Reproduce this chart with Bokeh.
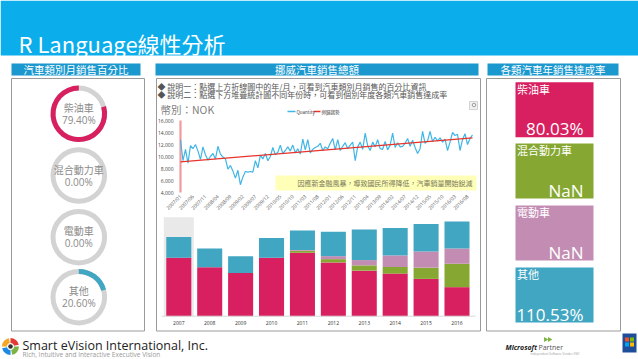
import numpy as np
from bokeh.plotting import figure
from bokeh.models import Range1d, ColumnDataSource
from bokeh.transform import stack
from bokeh.core.properties import value
from bokeh.embed import file_html
from bokeh.resources import INLINE

# ---------------- data ----------------
title_text = "R Language線性分析"
panel_titles = ["汽車類別月銷售百分比", "挪威汽車銷售總額", "各類汽車年銷售達成率"]
categories = ["柴油車", "混合動力車", "電動車", "其他"]
cat_colors = ["#D81F5F", "#86A832", "#C38DB3", "#41A6C2"]
month_share = [79.40, 0.00, 0.00, 20.60]          # % of selected month (2007/01)
rate_texts = ["80.03%", "NaN", "NaN", "110.53%"]   # yearly achievement rate
note_lines = ["◆ 說明一：點選上方折線圖中的年/月，可看到汽車類別月銷售的百分比資訊",
              "◆ 說明二：點選下方堆疊統計圖不同年份時，可看到個別年度各類汽車銷售達成率"]
currency_text = "幣別：NOK"
legend_names = ["Quantity", "迴歸趨勢"]
annotation_text = "因應新金融風暴，導致國民所得降低，汽車銷量開始銳減"

q2007 = [12800, 9300, 11200, 8900, 11800, 11300, 12000, 10900, 9500, 11600, 10300, 9400]
q2008 = [10000, 10500, 9600, 11700, 10400, 9900, 9600, 7900, 8500, 7600, 6400, 7700]
q2009 = [5300, 6600, 7500, 7400, 7500, 7400, 9300, 8100, 10200, 9600, 10500, 9300]
q2010 = [10000, 11500, 10300, 10700, 11900, 10500, 11000, 11600, 10900, 11900, 10600, 11300]
q2011 = [10400, 12900, 11100, 12800, 10600, 11200, 11500, 11700, 12200, 11000, 11600, 11300]
q2012 = [12200, 13000, 11100, 12800, 11000, 11700, 12300, 11300, 11900, 12400, 9300, 11600]
q2013 = [12400, 11200, 13900, 11800, 11000, 12400, 11600, 12800, 11300, 11200, 12500, 11100]
q2014 = [11900, 13900, 11500, 12300, 11600, 11700, 12200, 13000, 11700, 12700, 11500, 10500]
q2015 = [11300, 14200, 12200, 12600, 14200, 12500, 13200, 12600, 13100, 12400, 12900, 11000]
q2016 = [12400, 14000, 13500, 13700, 11000, 12800, 13800, 12000, 13000, 13600]
quantity = q2007 + q2008 + q2009 + q2010 + q2011 + q2012 + q2013 + q2014 + q2015 + q2016
trend_start, trend_end = 9100, 13100
selected_month = 0

y_ticks = [4000, 6000, 8000, 10000, 12000, 14000, 16000]
y_tick_labels = ["4,000", "6,000", "8,000", "10,000", "12,000", "14,000", "16,000"]
x_tick_idx = [0, 5, 10, 15, 20, 25, 30, 35, 40, 45, 50, 55, 60, 65, 70, 75, 80, 85,
              90, 95, 100, 105, 110, 115]
x_tick_labels = ["2007/01", "2007/06", "2007/11", "2008/04", "2008/09", "2009/02",
                 "2009/07", "2009/12", "2010/05", "2010/10", "2011/03", "2011/08",
                 "2012/01", "2012/06", "2012/11", "2013/04", "2013/09", "2014/02",
                 "2014/07", "2014/12", "2015/05", "2015/10", "2016/03", "2016/08"]

years = ["2007", "2008", "2009", "2010", "2011", "2012", "2013", "2014", "2015", "2016"]
diesel = [97.4, 81.4, 72.0, 97.4, 105.6, 89.6, 75.9, 71.0, 62.2, 48.4]
hybrid = [0.0, 0.0, 0.0, 0.0, 3.3, 5.5, 8.8, 11.0, 18.7, 39.0]
electric = [0.0, 0.0, 0.0, 0.0, 1.6, 5.0, 8.8, 19.3, 27.0, 25.3]
other = [34.7, 31.4, 28.0, 33.0, 32.4, 40.7, 51.2, 45.7, 45.7, 45.1]
selected_year = 0
bar_max = 165

# ---------------- figure (slide pixel coordinates) ----------------
W, H = 638, 359
def Y(y):
    return H - y

CJK = value("Noto Sans CJK TC")
SANS = value("Open Sans")

p = figure(width=W, height=H, x_range=Range1d(0, W), y_range=Range1d(0, H),
           output_backend="svg", toolbar_location=None, min_border=0,
           x_axis_type=None, y_axis_type=None, outline_line_color=None,
           background_fill_color="white", border_fill_color="white")
p.grid.visible = False

# title bar
p.quad(left=[0], right=[W], top=[Y(0)], bottom=[Y(55)], fill_color="#0BADEB", line_color=None)
p.text(x=[18], y=[Y(42)], text=[title_text], text_font=CJK, text_font_size="22px",
       text_color="white", text_baseline="alphabetic")

# panel header strips and panel borders
strip_l = [11, 155, 487]
strip_r = [140, 478, 618]
box_l = [11, 156, 486]
box_r = [144, 480, 620]
p.quad(left=strip_l, right=strip_r, top=[Y(63)] * 3, bottom=[Y(75)] * 3,
       fill_color="#1B98CE", line_color=None)
p.text(x=[(a + b) / 2 for a, b in zip(strip_l, strip_r)], y=[Y(69)] * 3, text=panel_titles,
       text_font=CJK, text_font_size="10.5px", text_color="white",
       text_align="center", text_baseline="middle")
p.quad(left=box_l, right=box_r, top=[Y(78)] * 3, bottom=[Y(330.5)] * 3,
       fill_color=None, line_color="#9A9A9A", line_width=1)

# ---------------- left: donuts ----------------
cx = 78.3
cys = [113.3, 175.0, 236.7, 296.7]
p.annulus(x=[cx] * 4, y=[Y(c) for c in cys], inner_radius=23.3, outer_radius=28.3,
          fill_color="#D3D3D3", line_color=None)
for i, pct in enumerate(month_share):
    if pct <= 0:
        continue
    f0 = sum(month_share[i + 1:]) / 100.0
    f1 = f0 + pct / 100.0
    p.annular_wedge(x=[cx], y=[Y(cys[i])], inner_radius=23.3, outer_radius=28.3,
                    start_angle=np.pi / 2 - f1 * 2 * np.pi, end_angle=np.pi / 2 - f0 * 2 * np.pi,
                    fill_color=cat_colors[i], line_color=None)
p.text(x=[cx] * 4, y=[Y(c - 6.5) for c in cys], text=categories, text_font=CJK,
       text_font_size="10px", text_color="#8A8A8A", text_align="center", text_baseline="middle")
p.text(x=[cx] * 4, y=[Y(c + 6.0) for c in cys], text=[f"{v:.2f}%" for v in month_share],
       text_font=SANS, text_font_size="10px", text_color="#8A8A8A", text_align="center",
       text_baseline="middle")

# ---------------- middle: notes ----------------
p.text(x=[157, 157], y=[Y(86.3), Y(94.2)], text=note_lines, text_font=CJK, text_font_size="8px",
       text_color="#555555", text_baseline="middle")
p.text(x=[160], y=[Y(108.5)], text=[currency_text], text_font=CJK, text_font_size="10.5px",
       text_color="#808080", text_baseline="middle")
# zoom icon
p.quad(left=[469], right=[477], top=[Y(101)], bottom=[Y(109)], fill_color="#F2F2F2",
       line_color="#C8C8C8", line_width=0.8)
p.circle(x=[473.5], y=[Y(104.5)], radius=1.8, fill_color=None, line_color="#888888", line_width=0.8)
# legend
p.line(x=[287, 295], y=[Y(111)] * 2, line_color="#41B6E6", line_width=1.5)
p.line(x=[313, 320], y=[Y(111)] * 2, line_color="#E8332A", line_width=1.5)
p.text(x=[296, 321], y=[Y(111)] * 2, text=legend_names, text_font=CJK, text_font_size="4.5px",
       text_color="#444444", text_baseline="middle")
# annotation box
p.quad(left=[275], right=[476], top=[Y(175)], bottom=[Y(190)], fill_color="#FFFFB8", line_color=None)
p.text(x=[472], y=[Y(182.5)], text=[annotation_text], text_font=CJK, text_font_size="7px",
       text_color="#7A7A5A", text_align="right", text_baseline="middle")

# line chart sub-coordinates
n = len(quantity)
lc = p.subplot(x_source=Range1d(0, 117), y_source=Range1d(4000, 16000),
               x_target=Range1d(180, 472), y_target=Range1d(Y(192), Y(120)))
lc.segment(x0=[selected_month], y0=[4000], x1=[selected_month], y1=[16000],
           line_color="#F29A9A", line_width=2.2)
lc.line(x=list(range(n)), y=quantity, line_color="#41B6E6", line_width=1.2)
lc.line(x=[0, n - 1], y=[trend_start, trend_end], line_color="#E8332A", line_width=1.2)

lcy = p.subplot(x_source=Range1d(0, W), y_source=Range1d(4000, 16000),
                x_target=Range1d(0, W), y_target=Range1d(Y(192), Y(120)))
lcy.text(x=[173] * len(y_ticks), y=y_ticks, text=y_tick_labels, text_font=SANS,
         text_font_size="5px", text_color="#444444", text_align="right", text_baseline="middle")

lcx = p.subplot(x_source=Range1d(0, 117), y_source=Range1d(0, H),
                x_target=Range1d(180, 472), y_target=Range1d(0, H))
lcx.text(x=x_tick_idx, y=[Y(195)] * len(x_tick_idx), text=x_tick_labels, angle=np.pi / 4,
         text_font=SANS, text_font_size="5px", text_color="#555555",
         text_align="right", text_baseline="middle")

# ---------------- stacked bars ----------------
src = ColumnDataSource(dict(x=list(range(len(years))), diesel=diesel, hybrid=hybrid,
                            electric=electric, other=other))
bc = p.subplot(x_source=Range1d(0, 9), y_source=Range1d(0, bar_max),
               x_target=Range1d(178.3, 456.5), y_target=Range1d(Y(315.7), Y(216.7)))
bc.vbar(x=[selected_year], width=0.97, bottom=[0], top=[bar_max], fill_color="#E9E9E9",
        line_color=None)
stackers = ["diesel", "hybrid", "electric", "other"]
for i, name in enumerate(stackers):
    bc.vbar(x="x", width=0.81, bottom=stack(*stackers[:i]), top=stack(*stackers[:i + 1]),
            source=src, fill_color=cat_colors[i], line_color=None)
bc.segment(x0=[-0.55], y0=[0], x1=[9.6], y1=[0], line_color="#D8D8D8", line_width=1)

bcx = p.subplot(x_source=Range1d(0, 9), y_source=Range1d(0, H),
                x_target=Range1d(178.3, 456.5), y_target=Range1d(0, H))
bcx.text(x=list(range(len(years))), y=[Y(322.5)] * len(years), text=years, text_font=SANS,
         text_font_size="5px", text_color="#333333", text_align="center", text_baseline="middle")

# ---------------- right: achievement tiles ----------------
tile_top = [81.7, 143.0, 205.0, 267.0]
tile_bot = [136.7, 198.0, 260.0, 322.0]
p.quad(left=[515] * 4, right=[593] * 4, top=[Y(t) for t in tile_top],
       bottom=[Y(b) for b in tile_bot], fill_color=cat_colors, line_color=None)
p.text(x=[516.5] * 4, y=[Y(t + 6.5) for t in tile_top], text=categories, text_font=CJK,
       text_font_size="11px", text_color="white", text_baseline="middle")
p.text(x=[583] * 4, y=[Y(b - 8.5) for b in tile_bot], text=rate_texts, text_font=SANS,
       text_font_size="17px", text_color="white", text_align="right",
       text_baseline="alphabetic")

# ---------------- footer ----------------
logo_cols = ["#E53935", "#F5A623", "#1E88E5", "#7CB342"]
for k, c in enumerate(logo_cols):
    p.annular_wedge(x=[10], y=[Y(346)], inner_radius=3.5, outer_radius=8.5,
                    start_angle=k * np.pi / 2 + 0.2, end_angle=(k + 1) * np.pi / 2,
                    fill_color=c, line_color=None)
p.circle(x=[10], y=[Y(346)], radius=2.3, fill_color="#333333", line_color=None)
p.text(x=[22], y=[Y(345)], text=["Smart eVision International, Inc."], text_font=SANS,
       text_font_size="12.5px", text_color="#222222", text_baseline="alphabetic")
p.text(x=[22], y=[Y(354)], text=["Rich, Intuitive and Interactive Executive Vision"],
       text_font=SANS, text_font_size="6.5px", text_color="#999999", text_baseline="alphabetic")
p.text(x=[505], y=[Y(347)], text=["Microsoft"], text_font=SANS, text_font_size="7px",
       text_font_style="bold italic", text_color="#222222", text_baseline="middle")
p.text(x=[538], y=[Y(347)], text=["Partner"], text_font=SANS, text_font_size="7px",
       text_color="#555555", text_baseline="middle")
p.scatter(x=[545, 549], y=[Y(339)] * 2, marker="triangle", size=5, angle=-np.pi / 2,
          fill_color="#7CB342", line_color=None)
p.text(x=[530], y=[Y(353)], text=["Independent Software Vendor (ISV)"], text_font=SANS,
       text_font_size="3px", text_color="#999999", text_baseline="middle")
p.quad(left=[622], right=[636], top=[Y(333)], bottom=[Y(352)], fill_color="#1E4E9A", line_color=None)
p.quad(left=[624.5, 629.5, 624.5, 629.5], right=[628.5, 633.5, 628.5, 633.5],
       top=[Y(337), Y(337), Y(342), Y(342)], bottom=[Y(341), Y(341), Y(346), Y(346)],
       fill_color=["#F25022", "#7FBA00", "#00A4EF", "#FFB900"], line_color=None)

open("out.html", "w").write(file_html(p, INLINE))
